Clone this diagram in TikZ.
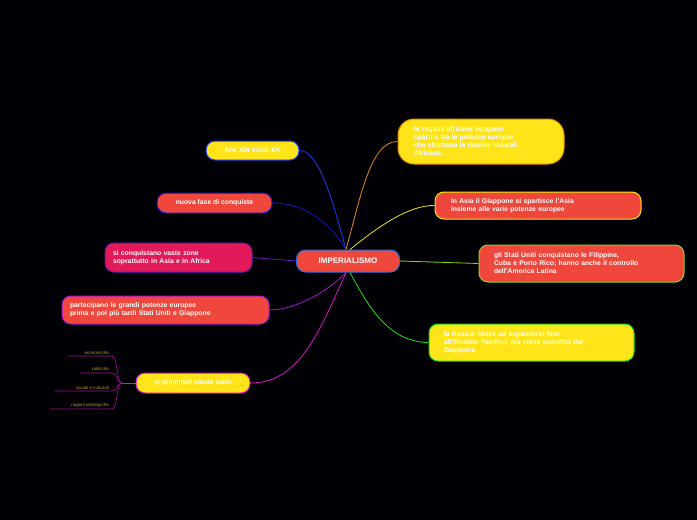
\documentclass[tikz,border=0pt]{standalone}
\usepackage{fontspec}
\setmainfont{Liberation Sans}
\begin{document}
\begin{tikzpicture}[x=1pt,y=-1pt,
 box/.style={rounded corners=9pt,line width=1pt,font=\fontsize{6.8}{8}\selectfont\bfseries,text=white,align=left,inner sep=0pt},
 small/.style={font=\fontsize{4.5}{5}\selectfont,text={rgb,255:red,170;green,160;blue,40},inner sep=1pt,anchor=south east},
 conn/.style={line width=0.8pt}]
\fill[black!98!blue] (0,0) rectangle (697,520);
\definecolor{rd}{RGB}{240,71,60}\definecolor{yl}{RGB}{254,228,24}
\definecolor{cr}{RGB}{226,26,90}
\node[box,fill=rd,draw={rgb,255:red,40;green,110;blue,220},minimum width=103pt,minimum height=22pt,align=center,font=\fontsize{8}{9}\selectfont\bfseries] (c) at (348,261) {IMPERIALISMO};
\node[box,fill=yl,draw={rgb,255:red,30;green,60;blue,240},minimum width=93pt,minimum height=19pt,align=center] (a1) at (252.5,150.5) {fine XIX inizio XX};
\node[box,fill=rd,draw={rgb,255:red,20;green,20;blue,200},minimum width=115pt,minimum height=20pt,align=center] (a2) at (214.5,203) {nuova fase di conquiste};
\node[box,fill=cr,draw={rgb,255:red,110;green,20;blue,190},minimum width=147pt,minimum height=29pt,text width=131pt] (a3) at (178.5,257.5) {si conquistano vaste zone\\soprattutto in Asia e in Africa};
\node[box,fill=rd,draw={rgb,255:red,170;green,20;blue,210},minimum width=207pt,minimum height=28pt,text width=191pt] (a4) at (165.5,310) {partecipano le grandi potenze europee\\prima e poi più tardi Stati Uniti e Giappone};
\node[box,fill=yl,draw={rgb,255:red,220;green,20;blue,200},minimum width=114pt,minimum height=20pt,align=center] (a5) at (193,383) {le principali cause sono};
\node[box,fill=yl,draw={rgb,255:red,230;green,140;blue,10},minimum width=166pt,minimum height=45pt,text width=134pt,rounded corners=16pt] (b1) at (481,141.5) {le regioni africane vengono\\spartite tra le potenze europee\\che sfruttano le risorse naturali\\Africane.};
\node[box,fill=rd,draw={rgb,255:red,240;green,230;blue,20},minimum width=206pt,minimum height=27pt,text width=174pt] (b2) at (538,205.5) {In Asia il Giappone si spartisce l'Asia\\insieme alle varie potenze europee};
\node[box,fill=rd,draw={rgb,255:red,130;green,220;blue,20},minimum width=205pt,minimum height=37pt,text width=175pt] (b3) at (581.5,263.5) {gli Stati Uniti conquistano le Filippine,\\Cuba e Porto Rico; hanno anche il controllo\\dell'America Latina};
\node[box,fill=yl,draw={rgb,255:red,30;green,220;blue,30},minimum width=205pt,minimum height=37pt,text width=175pt] (b4) at (531.5,342.5) {la Russia riesce ad espandersi fino\\all'Oceano Pacifico, ma viene sconfitta dal\\Giappone};
\draw[conn,draw={rgb,255:red,30;green,60;blue,240}] (c.north) ++(-2,0) .. controls (335,210) and (320,150) .. (a1.east);
\draw[conn,draw={rgb,255:red,20;green,20;blue,200}] (c.north) ++(-2,0) .. controls (335,230) and (310,203) .. (a2.east);
\draw[conn,draw={rgb,255:red,110;green,20;blue,190}] (c.west) -- (a3.east);
\draw[conn,draw={rgb,255:red,170;green,20;blue,210}] (c.south) ++(-2,0) .. controls (335,285) and (300,310) .. (a4.east);
\draw[conn,draw={rgb,255:red,220;green,20;blue,200}] (c.south) ++(-2,0) .. controls (320,330) and (300,383) .. (a5.east);
\draw[conn,draw={rgb,255:red,230;green,140;blue,10}] (c.north) ++(-2,0) .. controls (360,200) and (370,141) .. (b1.west);
\draw[conn,draw={rgb,255:red,240;green,230;blue,20}] (c.north) ++(2,0) .. controls (380,225) and (410,205) .. (b2.west);
\draw[conn,draw={rgb,255:red,130;green,220;blue,20}] (c.east) -- (b3.west);
\draw[conn,draw={rgb,255:red,30;green,220;blue,30}] (c.south) ++(2,0) .. controls (370,310) and (390,342) .. (b4.west);
\coordinate (j) at (122,383);
\draw[conn,draw={rgb,255:red,220;green,20;blue,200}] (a5.west) -- (j);
\foreach \n/\t/\y/\xl in {s1/economiche/356/68, s2/politiche/373/80, s3/sociali e culturali/391/55, s4/ragioni ideologiche/409/50}{
 \node[small] (\n) at (110,\y) {\t};
 \coordinate (\n e) at (112,\y);
 \draw[line width=0.6pt,draw={rgb,255:red,160;green,20;blue,150}] (\xl,\y) -- (\n e) .. controls (118,\y) and (116,383) .. (j);
}
\end{tikzpicture}
\end{document}
